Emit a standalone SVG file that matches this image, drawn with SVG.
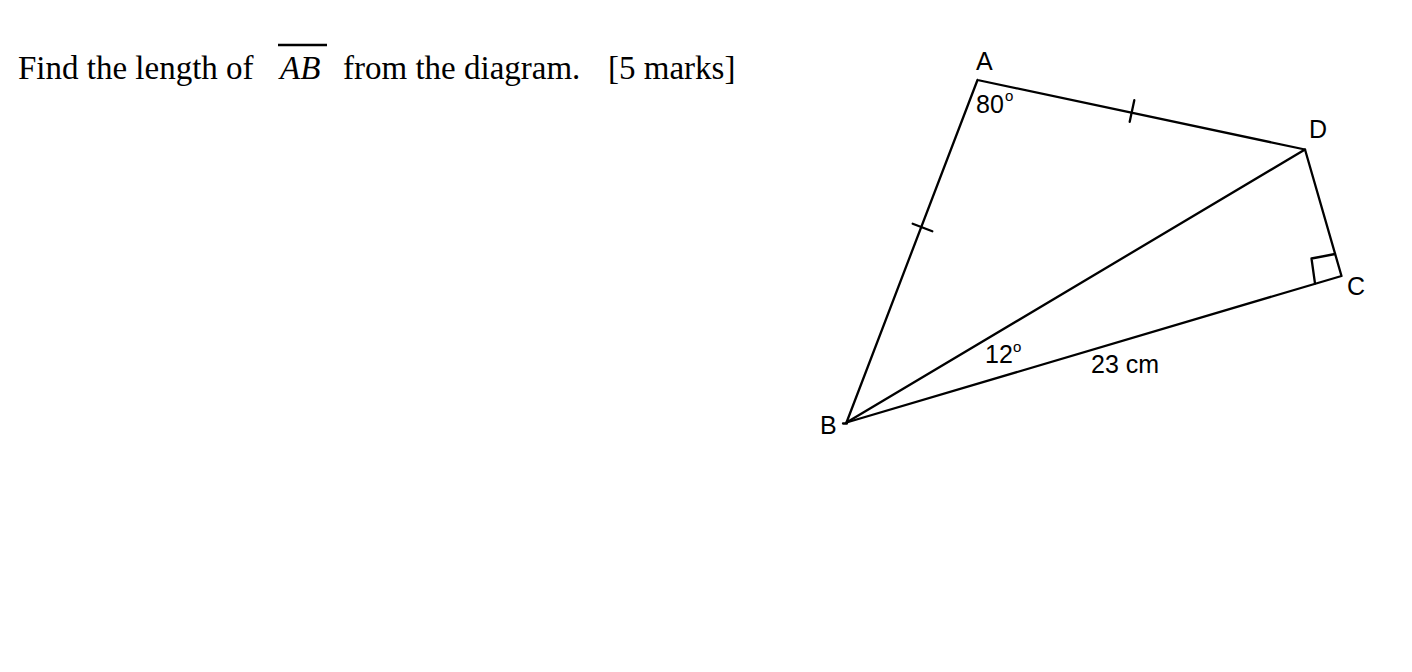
<svg xmlns="http://www.w3.org/2000/svg" width="1412" height="672" viewBox="0 0 1412 672">
<style>
.t{font-family:"Liberation Serif","Times New Roman",serif;font-size:33px;fill:#000}
.l{font-family:"Liberation Sans",Arial,sans-serif;font-size:25px;fill:#000}
.s{font-family:"Liberation Sans",Arial,sans-serif;font-size:15px;fill:#000}
.e{stroke:#000;stroke-width:2.3;fill:none;stroke-linecap:round;stroke-linejoin:round}
</style>
<rect width="1412" height="672" fill="#fff"/>
<g id="title">
<text class="t" x="18" y="79">Find the length of</text>
<text class="t" x="280" y="79" font-style="italic">AB</text>
<line x1="278" y1="45" x2="327" y2="45" stroke="#000" stroke-width="2.5"/>
<text class="t" x="343" y="79">from the diagram.</text>
<text class="t" x="608" y="79">[5 marks]</text>
</g>
<g id="connectors">
<polyline class="e" points="977.5,80 1305,149.5 1341.5,276 846.5,422.5 977.5,80"/>
<line class="e" x1="846.5" y1="422.5" x2="1305" y2="149.5"/>
<line class="e" x1="843" y1="423.5" x2="847" y2="423.5"/>
<line class="e" x1="912.7" y1="223.7" x2="932.3" y2="231.3"/>
<line class="e" x1="1134.3" y1="100.2" x2="1129.7" y2="121.8"/>
<polyline class="e" points="1315,283.5 1311.5,258.5 1335,254"/>
</g>
<g id="A"><text class="l" x="976" y="70">A</text></g>
<g id="D"><text class="l" x="1309" y="138">D</text></g>
<g id="C"><text class="l" x="1347" y="295">C</text></g>
<g id="B"><text class="l" x="820" y="434">B</text></g>
<g id="angleA"><text class="l" x="976" y="113">80</text><text class="s" x="1005" y="101">o</text></g>
<g id="angleB"><text class="l" x="985" y="363">12</text><text class="s" x="1013" y="352">o</text></g>
<g id="lengthBC"><text class="l" x="1091" y="373">23 cm</text></g>
</svg>
